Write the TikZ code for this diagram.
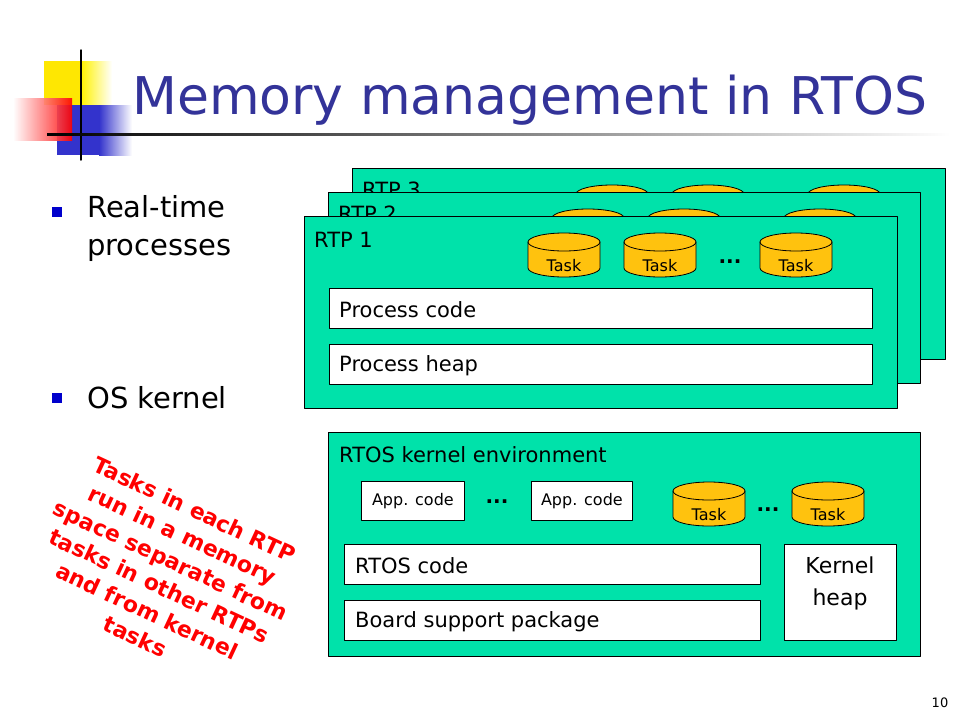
\documentclass[tikz,border=0pt]{standalone}
\usepackage{fontspec}
\setmainfont{DejaVu Sans}
\usepackage{tikz}
\definecolor{rtpgreen}{RGB}{0,226,170}
\definecolor{taskorange}{RGB}{255,194,14}
\definecolor{titleblue}{RGB}{51,51,153}
\definecolor{logoblue}{RGB}{51,51,204}
\tikzset{
  env/.style={draw=black,fill=rtpgreen,line width=0.8pt},
  area/.style={draw=black,fill=white,line width=0.8pt,anchor=north west,inner sep=0pt},
  cyl/.style={draw=black,fill=taskorange,line width=0.8pt},
  tasktext/.style={inner sep=0pt,font=\fontsize{16}{18}\selectfont},
  lbl/.style={anchor=west,inner sep=0pt,font=\fontsize{21}{24}\selectfont},
  dots/.style={inner sep=0pt,font=\bfseries\fontsize{20}{22}\selectfont}
}
% cylinder: name, x, y (centre)
\newcommand{\taskcyl}[3]{%
  \draw [cyl] (#2-36,#3-13) -- (#2-36,#3+13) arc (180:0:36 and 9) -- (#2+36,#3-13) arc (0:-180:36 and 9) -- cycle;
  \draw [line width=0.8pt] (#2-36,#3-13) arc (180:0:36 and 9);
  \coordinate (#1) at (#2,#3);}
\begin{document}
\begin{tikzpicture}[line cap=round,line join=round,x=1pt,y=-1pt]
\useasboundingbox (0,0) rectangle (960,720);
% logo
\fill [yellow!90!orange] (44,61) rectangle (82,105);
\shade [left color=yellow!90!orange,right color=white] (81,61) rectangle (112,105);
\fill [logoblue] (57,105) rectangle (100,155);
\shade [left color=logoblue,right color=white] (99,105) rectangle (132,155);
\shade [left color=white,right color=red,opacity=0.9] (13,98) rectangle (72,140);
\draw [line width=1.5pt] (81,50) -- (81,160);
\shade [left color=black,right color=white] (47,133) rectangle (950,135.5);
% title
\node (title) [anchor=west,inner sep=0pt,text=titleblue,font=\fontsize{52}{58}\selectfont] at (132,100) {Memory management in RTOS};
% bullets
\fill [blue!80!black] (52,207) rectangle (62,217);
\fill [blue!80!black] (52,393) rectangle (62,403);
\node (rt) [anchor=north west,inner sep=0pt,align=left,font=\fontsize{29}{38}\selectfont] at (87,195) {Real-time\\processes};
\node (os) [anchor=west,inner sep=0pt,font=\fontsize{29}{32}\selectfont] at (87,398) {OS kernel};
% RTP 3
\draw [env] (352,168) rectangle (945,359);
\node (r3) [lbl] at (362,190) {RTP 3};
\taskcyl{t31}{612}{207}
\taskcyl{t32}{708}{207}
\taskcyl{t33}{844}{207}
% RTP 2
\draw [env] (328,192) rectangle (920,383);
\node (r2) [lbl] at (338,214) {RTP 2};
\taskcyl{t21}{588}{231}
\taskcyl{t22}{684}{231}
\taskcyl{t23}{820}{231}
% RTP 1
\draw [env] (304,216) rectangle (897,408);
\node (r1) [lbl] at (314,240) {RTP 1};
\taskcyl{t11}{564}{255}
\node [tasktext] at ([yshift=-11pt]t11) {Task};
\taskcyl{t12}{660}{255}
\node [tasktext] at ([yshift=-11pt]t12) {Task};
\taskcyl{t13}{796}{255}
\node [tasktext] at ([yshift=-11pt]t13) {Task};
\node (d1) [dots] at (730,262) {...};
\node (pc) [area,minimum width=543pt,minimum height=40pt] at (329,288) {};
\node [lbl] at (339,310) {Process code};
\node (ph) [area,minimum width=543pt,minimum height=40pt] at (329,344) {};
\node [lbl] at (339,366) {Process heap};
% kernel
\draw [env] (328,432) rectangle (920,656);
\node (ke) [lbl] at (339,455) {RTOS kernel environment};
\node (a1) [area,minimum width=103pt,minimum height=39pt] at (361,481) {};
\node [inner sep=0pt,font=\fontsize{16}{18}\selectfont] at (a1.center) {App. code};
\node (a2) [area,minimum width=101pt,minimum height=39pt] at (531,481) {};
\node [inner sep=0pt,font=\fontsize{16}{18}\selectfont] at (a2.center) {App. code};
\node (d2) [dots] at (497,502) {...};
\taskcyl{k1}{709}{504}
\node [tasktext] at ([yshift=-11pt]k1) {Task};
\taskcyl{k2}{828}{504}
\node [tasktext] at ([yshift=-11pt]k2) {Task};
\node (d3) [dots] at (768,510) {...};
\node (rc) [area,minimum width=416pt,minimum height=40pt] at (344,544) {};
\node [lbl] at (355,566) {RTOS code};
\node (bsp) [area,minimum width=416pt,minimum height=40pt] at (344,600) {};
\node [lbl] at (355,622) {Board support package};
\node (kh) [area,minimum width=112pt,minimum height=96pt] at (784,544) {};
\node [inner sep=0pt,align=center,font=\fontsize{22}{32}\selectfont] at (840,583) {Kernel\\heap};
% note
\node (note) [rotate=-25,align=center,text=red,inner sep=0pt,font=\bfseries\fontsize{22}{28}\selectfont] at (165,573)
  {Tasks in each RTP\\run in a memory\\space separate from\\tasks in other RTPs\\and from kernel\\tasks};
\node (pg) [inner sep=0pt,font=\fontsize{13}{15}\selectfont] at (940,703) {10};
\end{tikzpicture}
\end{document}
